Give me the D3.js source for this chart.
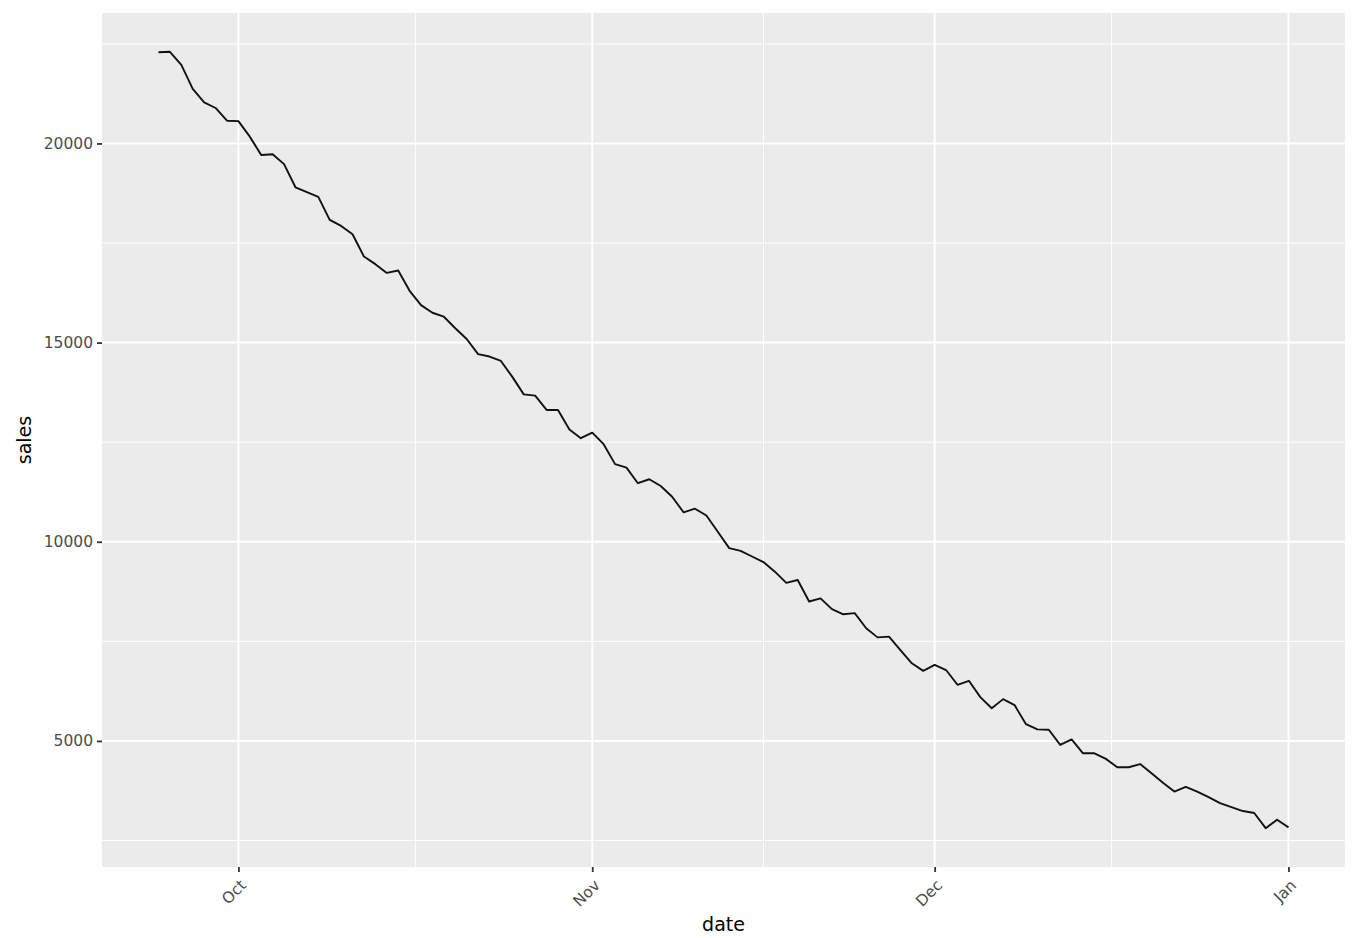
<!DOCTYPE html>
<html>
<head>
<meta charset="utf-8">
<script src="https://cdn.jsdelivr.net/npm/d3@7"></script>
<style>
  body { margin: 0; background: #fff; }
  text { font-family: "DejaVu Sans", sans-serif; }
</style>
</head>
<body>
<script>
// daily sales, one value per day starting Sep 24
var startDate = new Date(2020, 8, 24);
var endDate = new Date(2021, 0, 1);
var sales = [
  22290, 22300, 21970, 21370, 21030, 20890, 20570, 20560, 20170, 19710,
  19730, 19480, 18900, 18780, 18660, 18080, 17930, 17720, 17160, 16970,
  16750, 16810, 16300, 15940, 15750, 15650, 15360, 15090, 14710, 14650,
  14540, 14140, 13700, 13670, 13310, 13310, 12820, 12600, 12740, 12450,
  11950, 11860, 11470, 11570, 11400, 11130, 10740, 10830, 10660, 10250,
  9840, 9770, 9630, 9490, 9250, 8970, 9040, 8500, 8580, 8310,
  8180, 8210, 7830, 7600, 7620, 7280, 6950, 6760, 6910, 6780,
  6410, 6510, 6100, 5820, 6050, 5900, 5420, 5290, 5280, 4900,
  5040, 4690, 4690, 4550, 4340, 4340, 4420, 4190, 3950, 3730,
  3850, 3730, 3590, 3440, 3340, 3240, 3190, 2810, 3020, 2830
];
var yTicks = [5000, 10000, 15000, 20000];
var yMinor = [2500, 7500, 12500, 17500, 22500];
var xTickLabels = ["Oct", "Nov", "Dec", "Jan"];

var dates = d3.timeDay.range(startDate, d3.timeDay.offset(endDate, 1));
var data = dates.map(function(d, i) { return { date: d, sales: sales[i] }; });

var width = 1353;
var height = 938;
var panel = { left: 102, right: 1345, top: 13, bottom: 867 };

// ggplot style 5% expansion on both axes
var xExt = d3.extent(dates);
var xPad = (xExt[1] - xExt[0]) * 0.05;
var xScale = d3.scaleTime()
    .domain([new Date(+xExt[0] - xPad), new Date(+xExt[1] + xPad)])
    .range([panel.left, panel.right]);

var yExt = d3.extent(sales);
var yPad = (yExt[1] - yExt[0]) * 0.05;
var yScale = d3.scaleLinear()
    .domain([yExt[0] - yPad, yExt[1] + yPad])
    .range([panel.bottom, panel.top]);

var xTicks = d3.timeMonth.range(new Date(2020, 9, 1), new Date(2021, 0, 2));
var xMinor = xTicks.slice(0, -1).map(function(d, i) {
    return new Date((+d + +xTicks[i + 1]) / 2);
});

var svg = d3.select('body').append('svg')
    .attr('width', width)
    .attr('height', height);

svg.append('rect')
    .attr('x', panel.left)
    .attr('y', panel.top)
    .attr('width', panel.right - panel.left)
    .attr('height', panel.bottom - panel.top)
    .attr('fill', '#ebebeb');

// minor grid
svg.append('g').selectAll('line')
    .data(yMinor)
    .enter().append('line')
    .attr('x1', panel.left).attr('x2', panel.right)
    .attr('y1', function(d) { return yScale(d); })
    .attr('y2', function(d) { return yScale(d); })
    .attr('stroke', '#fff').attr('stroke-width', 1);

svg.append('g').selectAll('line')
    .data(xMinor)
    .enter().append('line')
    .attr('y1', panel.top).attr('y2', panel.bottom)
    .attr('x1', function(d) { return xScale(d); })
    .attr('x2', function(d) { return xScale(d); })
    .attr('stroke', '#fff').attr('stroke-width', 1);

// major grid
svg.append('g').selectAll('line')
    .data(yTicks)
    .enter().append('line')
    .attr('x1', panel.left).attr('x2', panel.right)
    .attr('y1', function(d) { return yScale(d); })
    .attr('y2', function(d) { return yScale(d); })
    .attr('stroke', '#fff').attr('stroke-width', 2);

svg.append('g').selectAll('line')
    .data(xTicks)
    .enter().append('line')
    .attr('y1', panel.top).attr('y2', panel.bottom)
    .attr('x1', function(d) { return xScale(d); })
    .attr('x2', function(d) { return xScale(d); })
    .attr('stroke', '#fff').attr('stroke-width', 2);

// the line
var line = d3.line()
    .x(function(d) { return xScale(d.date); })
    .y(function(d) { return yScale(d.sales); });

svg.append('path')
    .datum(data)
    .attr('d', line)
    .attr('fill', 'none')
    .attr('stroke', '#111')
    .attr('stroke-width', 1.9)
    .attr('stroke-linejoin', 'round');

// axes
var yAxis = d3.axisLeft(yScale)
    .tickValues(yTicks)
    .tickSize(5)
    .tickPadding(4)
    .tickFormat(d3.format('d'));

var gy = svg.append('g')
    .attr('transform', 'translate(' + panel.left + ',0)')
    .call(yAxis);
gy.select('.domain').remove();
gy.selectAll('line').attr('stroke', '#333').attr('stroke-width', 1.8);
gy.selectAll('text')
    .attr('fill', '#4d4d4d')
    .style('font-size', '15.5px')
    .style('font-family', '"DejaVu Sans", sans-serif');

var xAxis = d3.axisBottom(xScale)
    .tickValues(xTicks)
    .tickSize(5)
    .tickFormat(function(d, i) { return xTickLabels[i]; });

var gx = svg.append('g')
    .attr('transform', 'translate(0,' + panel.bottom + ')')
    .call(xAxis);
gx.select('.domain').remove();
gx.selectAll('line').attr('stroke', '#333').attr('stroke-width', 1.8);
gx.selectAll('text')
    .attr('fill', '#4d4d4d')
    .style('font-size', '15.5px')
    .style('font-family', '"DejaVu Sans", sans-serif')
    .attr('text-anchor', 'end')
    .attr('y', 0)
    .attr('dy', '0.75em')
    .attr('transform', 'translate(0,11) rotate(-45)');

// axis titles
svg.append('text')
    .attr('x', (panel.left + panel.right) / 2)
    .attr('y', 931)
    .attr('text-anchor', 'middle')
    .style('font-size', '19px')
    .attr('fill', '#000')
    .text('date');

svg.append('text')
    .attr('transform', 'translate(31,' + ((panel.top + panel.bottom) / 2) + ') rotate(-90)')
    .attr('text-anchor', 'middle')
    .style('font-size', '19px')
    .attr('fill', '#000')
    .text('sales');
</script>
</body>
</html>
